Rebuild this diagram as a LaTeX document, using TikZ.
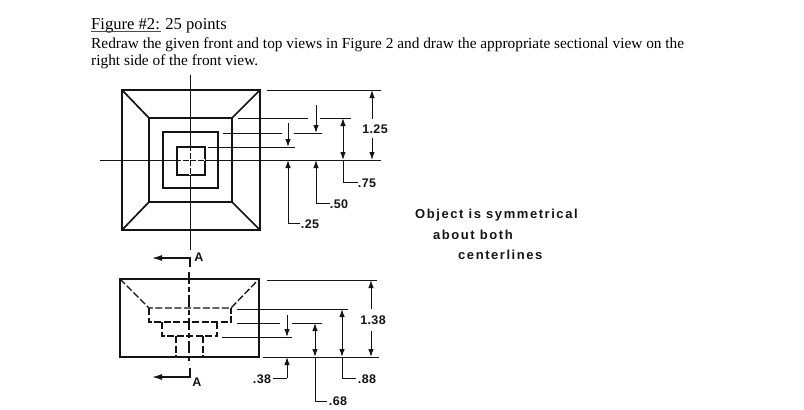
\documentclass[tikz,border=0pt]{standalone}
\usepackage{fontspec}
\setmainfont{Liberation Serif}
\newfontfamily\dimfont[LetterSpace=3]{Liberation Sans}
\newfontfamily\notefont[LetterSpace=12]{Liberation Sans}
\usetikzlibrary{arrows.meta}
\definecolor{inkc}{gray}{0.08}
\tikzset{
  x=1pt,y=-1pt,
  thick line/.style={line width=1.7pt,draw=inkc},
  thin line/.style={line width=1pt,draw=inkc},
  hid line/.style={line width=1.3pt,draw=inkc,dash pattern=on 7pt off 2.5pt},
  tip line/.style={thin line,-{Latex[length=8pt,width=5.5pt]}},
  dblarrow/.style={thin line,{Latex[length=8pt,width=5.5pt]}-{Latex[length=8pt,width=5.5pt]}},
  head/.style={anchor=base west,inner sep=0pt,font=\fontsize{15.35}{17}\selectfont},
  headone/.style={anchor=base west,inner sep=0pt,font=\fontsize{16.6}{18}\selectfont},
  dimtext/.style={inner sep=0pt,font=\dimfont\bfseries\fontsize{12.5}{14}\selectfont,text=inkc},
  note/.style={anchor=base west,inner sep=0pt,font=\notefont\bfseries\fontsize{13}{15}\selectfont,text=inkc},
}
\begin{document}
\begin{tikzpicture}
\useasboundingbox (0,0) rectangle (804,410);
% heading
\node[headone] (h1) at (91,29.5) {Figure \#2: 25 points};
\draw[line width=0.9pt,draw=black!70] (91,31.5)--(161,31.5);
\node[head] (h2) at (91,48) {Redraw the given front and top views in Figure 2 and draw the appropriate sectional view on the};
\node[head] (h3) at (91,65) {right side of the front view.};
% top view
\draw[thick line] (122,90) rectangle (260,230);
\draw[thick line] (149,118) rectangle (232,202);
\draw[thick line] (163,132) rectangle (218,188);
\draw[thick line] (177,147) rectangle (205,175);
\draw[thick line] (122,90)--(149,118) (260,90)--(232,118) (122,230)--(149,202) (260,230)--(232,202);
\draw[thin line] (190,75)--(190,250);
\draw[thin line] (100,160)--(381,160);
\draw[line width=1.2pt,draw=white,dash pattern=on 1.5pt off 6pt,dash phase=-3pt] (190,148)--(190,174);
\draw[line width=1.2pt,draw=white,dash pattern=on 1.5pt off 6pt,dash phase=-3pt] (178,160)--(204,160);
% top view dimensions
\draw[thin line] (267,90)--(381,90);
\draw[thin line] (238,118)--(308,118) (320,118)--(351,118);
\draw[thin line] (223,133)--(282,133) (294,133)--(322,133);
\draw[thin line] (208,147)--(295,147);
\draw[tip line] (372,119)--(372,90);
\draw[tip line] (372,138)--(372,160);
\node[dimtext] (d125) at (375,129) {1.25};
\draw[dblarrow] (343,118)--(343,160);
\draw[thin line] (343,160)--(343,182)--(358,182);
\node[dimtext] (d75) at (367,183) {.75};
\draw[tip line] (316,105)--(316,133);
\draw[tip line] (316,203)--(316,160);
\draw[thin line] (316,203)--(330,203);
\node[dimtext] (d50) at (339,204) {.50};
\draw[tip line] (288,123)--(288,147);
\draw[tip line] (288,223)--(288,160);
\draw[thin line] (288,223)--(300,223);
\node[dimtext] (d25) at (310,224) {.25};
% front view
\draw[thick line] (120,279) rectangle (259,357);
\draw[hid line] (120,279)--(149,308)--(231,308)--(259,279);
\draw[hid line] (149,308)--(149,322)--(231,322)--(231,308);
\draw[hid line] (162,322)--(162,336)--(217,336)--(217,322);
\draw[hid line] (176,336)--(176,357);
\draw[hid line] (203,336)--(203,357);
% cutting plane
\draw[line width=1.5pt,draw=inkc,dash pattern=on 12pt off 3pt on 5pt off 3pt] (189,272)--(189,364);
\draw[line width=1.3pt,draw=inkc,-{Latex[length=10pt,width=6pt]}] (190,267)--(190,258)--(152,258);
\draw[line width=1.3pt,draw=inkc,-{Latex[length=10pt,width=6pt]}] (190,368)--(190,377)--(152,377);
\node[dimtext] (a1) at (199,257) {A};
\node[dimtext] (a2) at (197,382) {A};
% front view dimensions
\draw[thin line] (267,280)--(377,280);
\draw[thin line] (237,309)--(348,309);
\draw[thin line] (237,323)--(280,323) (292,323)--(322,323);
\draw[thin line] (222,337)--(292,337);
\draw[thin line] (263,357)--(379,357);
\draw[tip line] (371,309)--(371,280);
\draw[tip line] (371,331)--(371,357);
\node[dimtext] (d138) at (373,320) {1.38};
\draw[dblarrow] (342,309)--(342,357);
\draw[thin line] (342,357)--(342,378)--(356,378);
\node[dimtext] (d88) at (367,379) {.88};
\draw[dblarrow] (315,323)--(315,357);
\draw[thin line] (315,357)--(315,401)--(327,401);
\node[dimtext] (d68) at (338,401) {.68};
\draw[tip line] (287,315)--(287,337);
\draw[tip line] (287,378)--(287,357);
\draw[thin line] (287,378)--(273,378);
\node[dimtext] (d38) at (262,379) {.38};
% note
\node[note] (n1) at (415,218) {Object is symmetrical};
\node[note] (n2) at (433,239) {about both};
\node[note] (n3) at (458,259) {centerlines};
\end{tikzpicture}
\end{document}
